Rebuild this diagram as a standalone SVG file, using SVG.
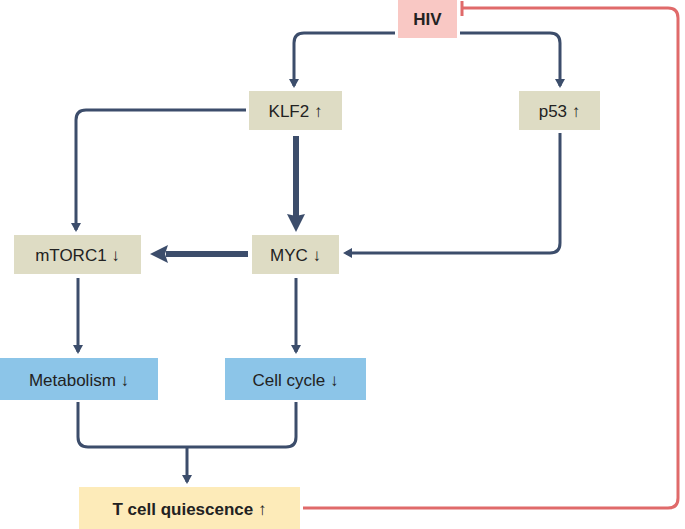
<svg xmlns="http://www.w3.org/2000/svg" width="685" height="529" viewBox="0 0 685 529">
<style>
.t{font-family:"Liberation Sans",Arial,sans-serif;font-size:17px;fill:#222;text-anchor:middle;dominant-baseline:central}
.b{font-weight:bold}
.g{fill:#dedcc4}.bl{fill:#8cc5e8}
.c{fill:none;stroke:#3c4d6b;stroke-width:3;stroke-linejoin:round}
.k{stroke-width:6}
</style>
<defs>
<marker id="a" viewBox="0 0 10 10" refX="9" refY="5" markerWidth="5" markerHeight="5" markerUnits="userSpaceOnUse" orient="auto"><path d="M0,0L10,5L0,10z" fill="#3c4d6b"/></marker>
<marker id="a2" viewBox="0 0 10 10" refX="9" refY="5" markerWidth="14" markerHeight="14" markerUnits="userSpaceOnUse" orient="auto"><path d="M0,0L10,5L0,10z" fill="#3c4d6b"/></marker>
</defs>
<g id="connectors">
<path class="c" d="M395,33H304Q294,33 294,43V86" marker-end="url(#m)"/>
<path class="c" d="M460,33H550Q560,33 560,43V86"/>
<path class="c" d="M246,110H86Q76,110 76,120V230"/>
<path class="c" d="M296,136V215"/>
<path class="c" d="M560,133V243Q560,253 550,253H346"/>
<path class="c" d="M78,278V352"/>
<path class="c" d="M296,278V352"/>
<path class="c" d="M78,402V437Q78,447 88,447H286Q296,447 296,437V402"/>
<path class="c" d="M187,447V482"/>
<path d="M296,216L287,214L296,232L305,214z" fill="#3c4d6b"/>
<path d="M165,254L168,245L150,254L168,263z" fill="#3c4d6b"/>
<path class="c k" d="M296,136V218" style="stroke-width:6"/>
<path class="c" d="M248,254H166" style="stroke-width:6"/>
<path d="M294,88l-5,-9h10z M560,88l-5,-9h10z M76,232l-5,-9h10z M78,354l-5,-9h10z M296,354l-5,-9h10z M187,484l-5,-9h10z M343,253l9,-5v10z" fill="#3c4d6b"/>
<path d="M303,508H668Q678,508 678,498V18Q678,8 668,8H462M462,1V16" fill="none" stroke="#e06a6a" stroke-width="3"/>
</g>
<g id="hiv"><rect x="398" y="0" width="59" height="38" fill="#f9c8c4"/><text class="t b" x="427.5" y="19">HIV</text></g>
<g id="klf2"><rect class="g" x="249" y="91" width="93" height="39"/><text class="t" x="295.5" y="111">KLF2 ↑</text></g>
<g id="p53"><rect class="g" x="519" y="91" width="81" height="39"/><text class="t" x="559.5" y="111">p53 ↑</text></g>
<g id="mtorc1"><rect class="g" x="14" y="235" width="127" height="39"/><text class="t" x="77.5" y="255">mTORC1 ↓</text></g>
<g id="myc"><rect class="g" x="252" y="235" width="87" height="39"/><text class="t" x="295.5" y="255">MYC ↓</text></g>
<g id="metabolism"><rect class="bl" x="0" y="358" width="158" height="42"/><text class="t" x="79" y="380">Metabolism ↓</text></g>
<g id="cellcycle"><rect class="bl" x="225" y="358" width="141" height="42"/><text class="t" x="295.5" y="380">Cell cycle ↓</text></g>
<g id="quiescence"><rect x="79" y="487" width="221" height="42" fill="#fdebb9"/><text class="t b" x="189.5" y="509">T cell quiescence ↑</text></g>
</svg>
